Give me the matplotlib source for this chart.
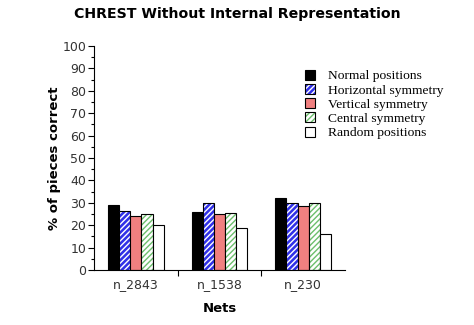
import matplotlib
matplotlib.use("Agg")
import matplotlib.pyplot as plt
from matplotlib.ticker import MultipleLocator, FixedLocator
from matplotlib.patches import Patch
from matplotlib.legend_handler import HandlerTuple
import numpy as np

nets = ["n_2843", "n_1538", "n_230"]
series = ["Normal positions", "Horizontal symmetry", "Vertical symmetry",
          "Central symmetry", "Random positions"]
normal = [28.9, 25.7, 32.3]
horizontal = [26.5, 29.8, 30.0]
vertical = [24.2, 25.0, 28.6]
central = [25.1, 25.6, 30.0]
random_pos = [20.0, 18.6, 16.2]

# (face colour, hatch, hatch colour)
styles = [
    ("black", None, None),
    ("#3030e8", "//////", "white"),
    ("#f08080", None, None),
    ("white", "//////", "#6cbf6c"),
    ("white", None, None),
]

fig = plt.figure(figsize=(4.74, 3.25), dpi=100)
ax = fig.add_axes([94 / 474, 55 / 325, 251 / 474, 224 / 325])

x = np.arange(len(nets))
w = 0.133
values = [normal, horizontal, vertical, central, random_pos]
for i, (vals, (fc, hatch, hc)) in enumerate(zip(values, styles)):
    pos = x + (i - 2) * w
    if hatch:
        ax.bar(pos, vals, w, color=fc, edgecolor=hc, hatch=hatch, linewidth=0)
        ax.bar(pos, vals, w, fill=False, edgecolor="black", linewidth=0.8)
    else:
        ax.bar(pos, vals, w, color=fc, edgecolor="black", linewidth=0.8)

ax.set_xlim(-0.5, 2.5)
ax.set_ylim(0, 100)
ax.yaxis.set_major_locator(MultipleLocator(10))
ax.yaxis.set_minor_locator(MultipleLocator(5))
ax.set_xticks(x)
ax.set_xticklabels(nets)
ax.xaxis.set_minor_locator(FixedLocator([0.5, 1.5]))
ax.tick_params(axis="x", which="major", length=0, pad=6)
ax.tick_params(axis="x", which="minor", length=4, width=0.8, direction="out")
ax.tick_params(axis="y", which="major", length=4, width=0.8, pad=1.5)
ax.tick_params(axis="y", which="minor", length=2, width=0.8)
ax.tick_params(labelsize=9, labelcolor="#333333")

for s in ["top", "right"]:
    ax.spines[s].set_visible(False)
for s in ["left", "bottom"]:
    ax.spines[s].set_linewidth(0.8)

ax.set_ylabel("% of pieces correct", fontsize=9.5, fontweight="bold", labelpad=1)
ax.set_xlabel("Nets", fontsize=9.5, fontweight="bold", labelpad=8)
fig.text(0.5, 0.958, "CHREST Without Internal Representation",
         ha="center", va="center", fontsize=10.2, fontweight="bold")

handles = []
for fc, hatch, hc in styles:
    if hatch:
        handles.append((Patch(facecolor=fc, edgecolor=hc, hatch=hatch, linewidth=0),
                        Patch(fill=False, edgecolor="black", linewidth=0.8)))
    else:
        handles.append(Patch(facecolor=fc, edgecolor="black", linewidth=0.8))
leg = fig.legend(handles, series, loc="upper left",
                 bbox_to_anchor=(298 / 474, 1 - 63 / 325),
                 frameon=False, prop={"family": "Liberation Serif", "size": 9.7},
                 handler_map={tuple: HandlerTuple(ndivide=1, pad=0)},
                 handlelength=0.75, handleheight=0.75, handletextpad=0.95,
                 labelspacing=0.12, borderpad=0)

fig.savefig("out.png", dpi=100)
